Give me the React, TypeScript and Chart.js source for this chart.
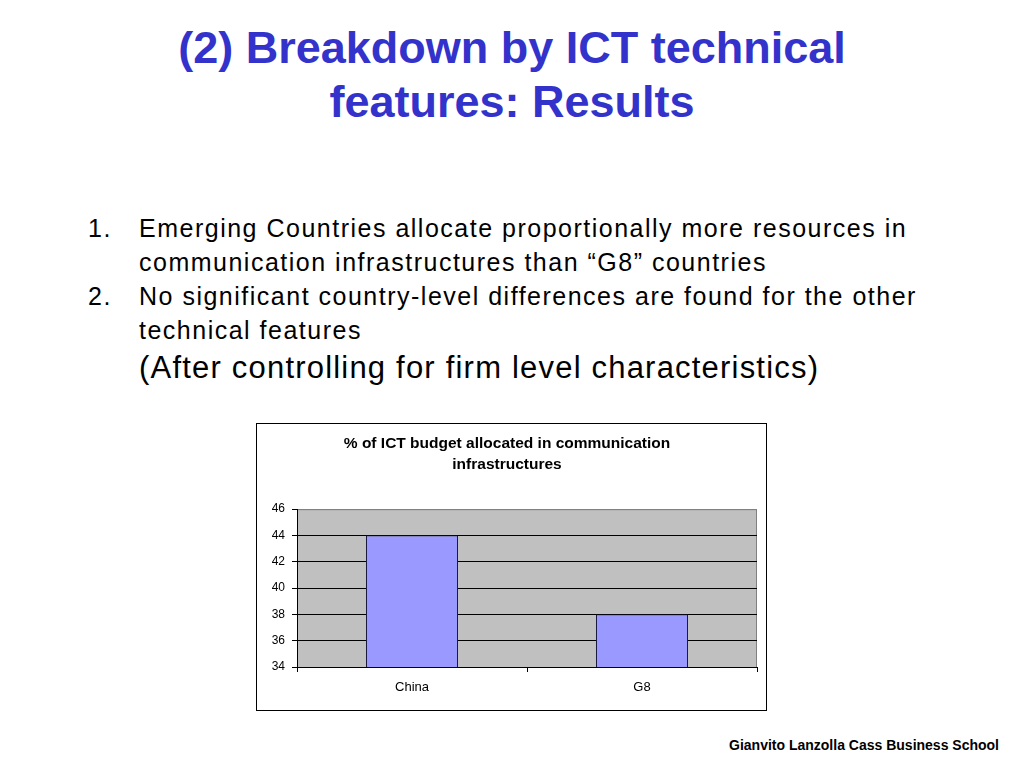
import React, { useEffect, useRef } from "react";
import { Chart, registerables } from "chart.js";

Chart.register(...registerables);

const categories = ["China", "G8"];
const values = [44, 38];
const yMin = 34;
const yMax = 46;
const yStep = 2;
const chartTitle = ["% of ICT budget allocated in communication", "infrastructures"];

const FONT = "'Liberation Sans', Arial, Helvetica, sans-serif";

const bgPlugin = {
  id: "plotBg",
  beforeDraw(chart: any) {
    const { ctx, chartArea } = chart;
    if (!chartArea) return;
    ctx.save();
    ctx.fillStyle = "#c0c0c0";
    ctx.fillRect(chartArea.left, chartArea.top, chartArea.right - chartArea.left, chartArea.bottom - chartArea.top);
    ctx.strokeStyle = "#808080";
    ctx.lineWidth = 1;
    ctx.beginPath();
    ctx.moveTo(chartArea.left, chartArea.top + 0.5);
    ctx.lineTo(chartArea.right - 0.5, chartArea.top + 0.5);
    ctx.lineTo(chartArea.right - 0.5, chartArea.bottom);
    ctx.stroke();
    ctx.restore();
  },
};

function BarChart() {
  const ref = useRef<HTMLCanvasElement | null>(null);
  useEffect(() => {
    if (!ref.current) return;
    const chart = new Chart(ref.current, {
      type: "bar",
      data: {
        labels: categories,
        datasets: [
          {
            data: values,
            backgroundColor: "#9999ff",
            borderColor: "#1a1a40",
            borderWidth: 1,
            barPercentage: 0.4,
            categoryPercentage: 1,
          },
        ],
      },
      options: {
        animation: false,
        responsive: false,
        maintainAspectRatio: false,
        layout: { padding: { left: 0, right: 9, top: 0, bottom: 0 } },
        plugins: {
          legend: { display: false },
          tooltip: { enabled: false },
          title: {
            display: true,
            text: chartTitle,
            color: "#000",
            font: { family: FONT, size: 15.5, weight: "bold", lineHeight: 1.36 },
            padding: { top: 9, bottom: 34 },
          },
        },
        scales: {
          x: {
            grid: { offset: true, drawOnChartArea: false, drawTicks: true, tickLength: 5, color: "#000" },
            border: { color: "#000", width: 1 },
            ticks: { color: "#000", font: { family: FONT, size: 13 }, padding: 8 },
            afterFit(scale: any) {
              scale.height = 43;
            },
          },
          y: {
            min: yMin,
            max: yMax,
            ticks: { stepSize: yStep, color: "#000", font: { family: FONT, size: 12 }, padding: 7 },
            grid: {
              color: (c: any) => (c.tick && c.tick.value === yMax ? "#808080" : "#000"),
              tickColor: "#000",
              tickLength: 5,
              lineWidth: 1,
            },
            border: { color: "#000", width: 1 },
            afterFit(scale: any) {
              scale.width = 40;
            },
          },
        },
      },
      plugins: [bgPlugin],
    } as any);
    return () => chart.destroy();
  }, []);
  return <canvas ref={ref} width={509} height={286} style={{ display: "block", width: 509, height: 286 }} />;
}

export default function App() {
  const bulletStyle: React.CSSProperties = {
    position: "absolute",
    left: 139,
    fontSize: 25,
    letterSpacing: "1.5px",
    lineHeight: "34px",
    color: "#000",
    whiteSpace: "nowrap",
  };
  const numStyle: React.CSSProperties = {
    position: "absolute",
    left: 88,
    fontSize: 25,
    letterSpacing: "1.5px",
    lineHeight: "34px",
    color: "#000",
  };
  return (
    <div
      style={{
        position: "absolute",
        left: 0,
        top: 0,
        width: 1024,
        height: 768,
        background: "#fff",
        fontFamily: FONT,
        overflow: "hidden",
      }}
    >
      <div
        style={{
          position: "absolute",
          left: 0,
          top: 21,
          width: 1024,
          textAlign: "center",
          color: "#3333cc",
          fontWeight: "bold",
          fontSize: 45,
          lineHeight: "54px",
        }}
      >
        (2) Breakdown by ICT technical
        <br />
        features: Results
      </div>

      <div style={{ ...numStyle, top: 211 }}>1.</div>
      <div style={{ ...bulletStyle, top: 211 }}>Emerging Countries allocate proportionally more resources in</div>
      <div style={{ ...bulletStyle, top: 245 }}>communication infrastructures than “G8” countries</div>
      <div style={{ ...numStyle, top: 279 }}>2.</div>
      <div style={{ ...bulletStyle, top: 279 }}>No significant country-level differences are found for the other</div>
      <div style={{ ...bulletStyle, top: 313 }}>technical features</div>
      <div style={{ ...bulletStyle, top: 348, fontSize: 31, letterSpacing: "1.2px", lineHeight: "40px" }}>
        (After controlling for firm level characteristics)
      </div>

      <div
        style={{
          position: "absolute",
          left: 256,
          top: 423,
          width: 509,
          height: 286,
          border: "1px solid #000",
          background: "#fff",
        }}
      >
        <BarChart />
      </div>

      <div
        style={{
          position: "absolute",
          right: 25,
          top: 737,
          fontSize: 14,
          fontWeight: "bold",
          color: "#000",
          whiteSpace: "nowrap",
        }}
      >
        Gianvito Lanzolla Cass Business School
      </div>
    </div>
  );
}
